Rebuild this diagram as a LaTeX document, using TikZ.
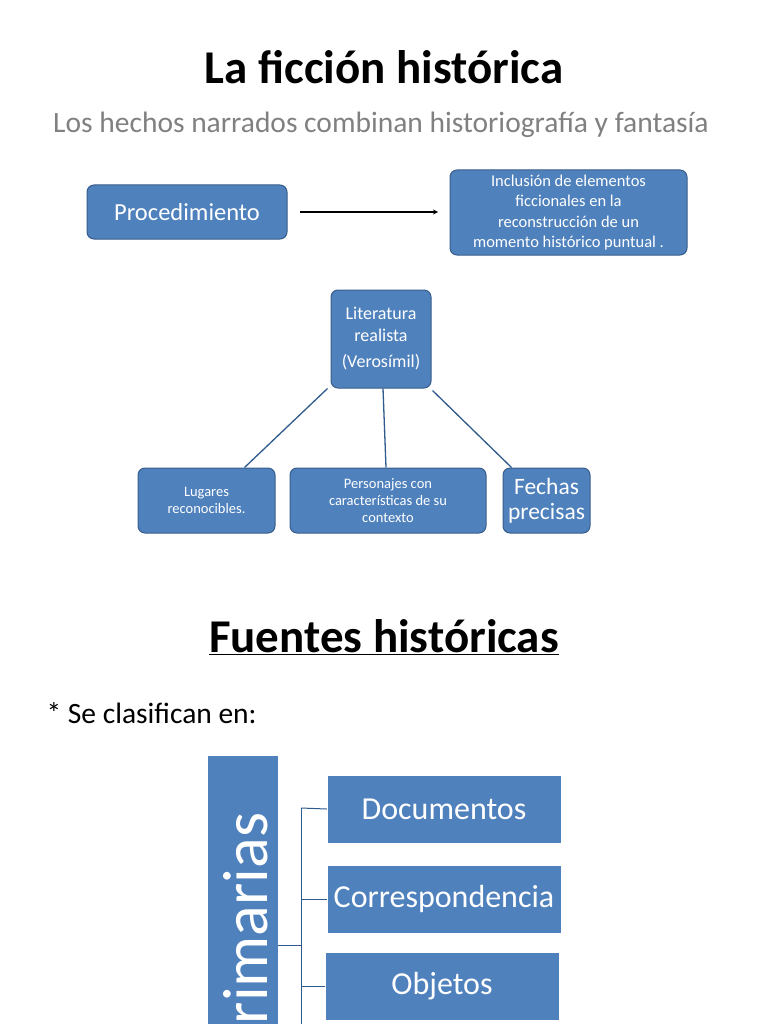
\documentclass[tikz,border=0pt]{standalone}
\usepackage{fontspec}
\setmainfont{Carlito}
\begin{document}
\begin{tikzpicture}[x=1pt,y=-1pt,
  rbox/.style={line width=1pt, fill=boxblue, rounded corners=7pt, text=white, align=center, inner sep=2pt},
  sbox/.style={fill=boxblue, draw=white, text=white, align=center},
  conn/.style={draw=linkblue, line width=1.3pt}]
\definecolor{boxblue}{HTML}{4F81BD}
\definecolor{linkblue}{HTML}{2E5A8C}
\definecolor{bord}{HTML}{385D8A}
\tikzset{rbox/.append style={draw=bord}}
\useasboundingbox (0,0) rectangle (768,1024);
\node[font=\bfseries\fontsize{47}{52}\selectfont] (title) at (384,67) {La ficción histórica};
\node[font=\fontsize{29.5}{34}\selectfont, text=gray] (sub) at (381,125) {Los hechos narrados combinan historiografía y fantasía};
\node[rbox, minimum width=200pt, minimum height=54pt, font=\fontsize{24.5}{28}\selectfont] (proc) at (187,212) {Procedimiento};
\node[rbox, minimum width=237pt, minimum height=85pt, font=\fontsize{16.5}{20.5}\selectfont] (incl) at (568.5,212.5) {Inclusión de elementos\\ficcionales en la\\reconstrucción de un\\momento histórico puntual .};
\coordinate (a1) at (300,212);
\coordinate (a2) at (438,212);
\draw[line width=1.2pt,-stealth] (a1) -- (a2);
\node[rbox, minimum width=100pt, minimum height=98pt, font=\fontsize{18}{22}\selectfont] (lit) at (381,339) {Literatura\\realista\\[4pt](Verosímil)};
\node[rbox, minimum width=137pt, minimum height=65pt, font=\fontsize{14.5}{17}\selectfont] (lug) at (206.5,500.5) {Lugares\\reconocibles.};
\node[rbox, minimum width=196pt, minimum height=65pt, font=\fontsize{14.5}{17}\selectfont] (pers) at (388,500.5) {Personajes con\\características de su\\contexto};
\node[rbox, minimum width=87pt, minimum height=65pt, font=\fontsize{23.5}{25}\selectfont] (fech) at (546.5,500.5) {Fechas\\precisas};
\draw[conn] (lit.south west)++(-3,0) -- ([xshift=38pt]lug.north);
\draw[conn] ([xshift=2pt]lit.south) -- ([xshift=-2pt]pers.north);
\draw[conn] (lit.south east)++(1,2) -- ([xshift=-35pt]fech.north);
\node[font=\bfseries\fontsize{47}{52}\selectfont] (fuen) at (384,637) {\underline{Fuentes históricas}};
\node[font=\fontsize{29.5}{34}\selectfont, anchor=west] (cla) at (43,713) {* Se clasifican en:};
\fill[boxblue] (208,756) rectangle (278,1100);
\node[rotate=90, text=white, font=\fontsize{64}{70}\selectfont] (prim) at (246,935) {Primarias};
\node[sbox, minimum width=234pt, minimum height=68pt, font=\fontsize{32}{36}\selectfont] (doc) at (444,809) {Documentos};
\node[sbox, minimum width=234pt, minimum height=68pt, font=\fontsize{32}{36}\selectfont] (cor) at (444,899) {Correspondencia};
\node[sbox, minimum width=234pt, minimum height=68pt, font=\fontsize{32}{36}\selectfont] (obj) at (442,986) {Objetos};
\coordinate (br) at (301,945);
\coordinate (btop) at (301,808);
\coordinate (bbot) at (301,1100);
\draw[conn, line width=1pt] (278,945) -- (br);
\draw[conn, line width=1pt] (btop) -- (bbot);
\draw[conn, line width=1pt] (btop) -- (doc.west);
\draw[conn, line width=1pt] (301,899) -- (cor.west);
\draw[conn, line width=1pt] (301,986) -- (obj.west);
\end{tikzpicture}
\end{document}
